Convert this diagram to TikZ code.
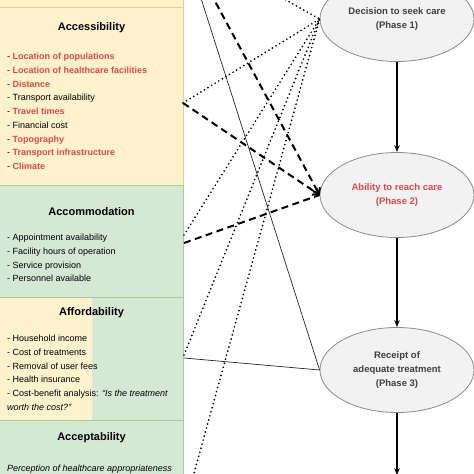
\documentclass[tikz,border=0pt]{standalone}
\usepackage{fontspec}
\setmainfont{Liberation Sans}
\usetikzlibrary{shapes.geometric,arrows.meta}
\definecolor{boxyellow}{HTML}{FFF2CC}
\definecolor{boxgreen}{HTML}{D5E8D4}
\definecolor{yellowline}{HTML}{E3CF8E}
\definecolor{greenline}{HTML}{A9C99B}
\definecolor{hired}{HTML}{E04A4A}
\definecolor{ellfill}{HTML}{F2F2F2}
\definecolor{ellline}{HTML}{8C8C8C}
\definecolor{txtgray}{HTML}{404040}
\newcommand{\hl}[1]{\textcolor{hired}{\textbf{#1}}}

\begin{document}
\begin{tikzpicture}[x=1pt,y=-1pt,
  phase/.style={ellipse, draw=ellline, fill=ellfill, line width=0.8pt,
    minimum width=154pt, minimum height=85pt, inner sep=0pt, align=center,
    text=txtgray, font=\bfseries\fontsize{9.5}{14}\selectfont},
  head/.style={inner sep=0pt, font=\bfseries\fontsize{11}{13}\selectfont},
  items/.style={anchor=north west, align=left, inner sep=0pt,
    font=\fontsize{9}{13.75}\selectfont},
  ybox/.style={fill=boxyellow, draw=yellowline, line width=0.8pt},
  gbox/.style={fill=boxgreen, draw=greenline, line width=0.8pt},
  flow/.style={-{Stealth[length=7pt,width=5.5pt]}, line width=1.1pt},
  dotlink/.style={line width=1.9pt, dash pattern=on 0pt off 4.2pt, line cap=round},
  dashlink/.style={line width=2pt, dash pattern=on 7pt off 4.5pt},
  solidlink/.style={line width=0.7pt, draw=black!85}]
\clip (0,0) rectangle (474,474);

%% boxes on the left
\draw[ybox] (-1,-80) rectangle (183,7);
\draw[ybox] (-1,7) rectangle (183,185);
\draw[gbox] (-1,185) rectangle (183,297);
\fill[boxgreen] (-1,297) rectangle (183,420);
\fill[boxyellow] (-1,297) rectangle (92,420);
\draw[greenline, line width=0.8pt] (-1,297) rectangle (183,420);
\draw[gbox] (-1,420) rectangle (183,540);

\node[head] (accessH) at (91.5,28) {Accessibility};
\node[items] (accessL) at (7,53) {- \hl{Location of populations}\\
  - \hl{Location of healthcare facilities}\\
  - \hl{Distance}\\
  - Transport availability\\
  - \hl{Travel times}\\
  - Financial cost\\
  - \hl{Topography}\\
  - \hl{Transport infrastructure}\\
  - \hl{Climate}};

\node[head] (accomH) at (91.5,212) {Accommodation};
\node[items] (accomL) at (7,234) {- Appointment availability\\
  - Facility hours of operation\\
  - Service provision\\
  - Personnel available};

\node[head] (affordH) at (91.5,313) {Affordability};
\node[items] (affordL) at (7,335) {- Household income\\
  - Cost of treatments\\
  - Removal of user fees\\
  - Health insurance\\
  - Cost-benefit analysis: \textit{``Is the treatment}\\
  \textit{worth the cost?''}};

\node[head] (acceptH) at (91.5,438) {Acceptability};
\node[items] (acceptL) at (7,465) {\textit{Perception of healthcare appropriateness}};

%% phases
\node[phase] (p1) at (397,19) {Decision to seek care\\(Phase 1)};
\node[phase, text=hired] (p2) at (397,195) {Ability to reach care\\(Phase 2)};
\node[phase] (p3) at (397,370) {Receipt of\\adequate treatment\\(Phase 3)};
\coordinate (next) at (397,475);

\draw[flow] (p1) -- (p2);
\draw[flow] (p2) -- (p3);
\draw[flow] (p3) -- (next);

%% links from the boxes
\coordinate (prevE) at (183,-58);
\coordinate (accessE) at (183,103);
\coordinate (accomE1) at (184,235);
\coordinate (accomE2) at (184,243);
\coordinate (affordE1) at (184,355);
\coordinate (affordE2) at (184,358);
\coordinate (acceptE) at (183,513);

\draw[solidlink] (prevE) -- (p3.west);
\draw[solidlink] (affordE2) -- (p3.west);

\draw[dotlink] (prevE) -- (p1.west);
\draw[dotlink] (accessE) -- (p1.west);
\draw[dotlink] (accomE1) -- (p1.west);
\draw[dotlink] (affordE1) -- (p1.west);
\draw[dotlink] (acceptE) -- (p1.west);

\draw[dashlink, -{Straight Barb[length=5pt,width=8pt]}] (prevE) -- (p2.west);
\draw[dashlink, -{Straight Barb[length=5pt,width=8pt]}] (accessE) -- (p2.west);
\draw[dashlink] (accomE2) -- (p2.west);

\end{tikzpicture}
\end{document}
